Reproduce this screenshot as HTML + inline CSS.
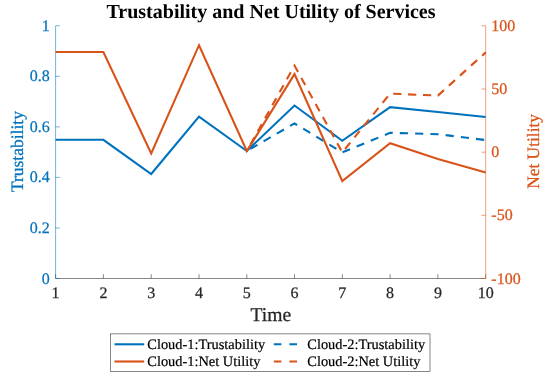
<!DOCTYPE html>
<html><head><meta charset="utf-8"><title>Trustability and Net Utility of Services</title>
<style>
html,body{margin:0;padding:0;background:#fff;}
svg{display:block;font-family:"Liberation Serif","DejaVu Serif",serif;text-rendering:geometricPrecision;}
</style></head><body>
<svg width="550" height="376" viewBox="0 0 550 376">
<rect width="550" height="376" fill="#fff"/>
<text x="271.0" y="18.2" text-anchor="middle" font-size="20" font-weight="bold" fill="#000">Trustability and Net Utility of Services</text>
<g stroke="#262626" stroke-width="0.55" fill="none">
<line x1="55.6" y1="278.5" x2="485.7" y2="278.5"/>
<line x1="55.6" y1="278.5" x2="55.6" y2="274.2"/>
<line x1="103.4" y1="278.5" x2="103.4" y2="274.2"/>
<line x1="151.2" y1="278.5" x2="151.2" y2="274.2"/>
<line x1="199.0" y1="278.5" x2="199.0" y2="274.2"/>
<line x1="246.8" y1="278.5" x2="246.8" y2="274.2"/>
<line x1="294.5" y1="278.5" x2="294.5" y2="274.2"/>
<line x1="342.3" y1="278.5" x2="342.3" y2="274.2"/>
<line x1="390.1" y1="278.5" x2="390.1" y2="274.2"/>
<line x1="437.9" y1="278.5" x2="437.9" y2="274.2"/>
<line x1="485.7" y1="278.5" x2="485.7" y2="274.2"/>
</g>
<g stroke="#0072BD" stroke-width="0.55" fill="none">
<line x1="55.6" y1="25.8" x2="55.6" y2="278.5"/>
<line x1="55.6" y1="278.5" x2="59.9" y2="278.5"/>
<line x1="55.6" y1="228.0" x2="59.9" y2="228.0"/>
<line x1="55.6" y1="177.4" x2="59.9" y2="177.4"/>
<line x1="55.6" y1="126.9" x2="59.9" y2="126.9"/>
<line x1="55.6" y1="76.3" x2="59.9" y2="76.3"/>
<line x1="55.6" y1="25.8" x2="59.9" y2="25.8"/>
</g>
<g stroke="#D95319" stroke-width="0.55" fill="none">
<line x1="485.7" y1="25.8" x2="485.7" y2="278.5"/>
<line x1="485.7" y1="278.5" x2="481.4" y2="278.5"/>
<line x1="485.7" y1="215.3" x2="481.4" y2="215.3"/>
<line x1="485.7" y1="152.2" x2="481.4" y2="152.2"/>
<line x1="485.7" y1="89.0" x2="481.4" y2="89.0"/>
<line x1="485.7" y1="25.8" x2="481.4" y2="25.8"/>
</g>
<g font-size="16" fill="#262626" stroke="#262626" stroke-width="0.25" text-anchor="middle">
<text x="55.6" y="298.3">1</text>
<text x="103.4" y="298.3">2</text>
<text x="151.2" y="298.3">3</text>
<text x="199.0" y="298.3">4</text>
<text x="246.8" y="298.3">5</text>
<text x="294.5" y="298.3">6</text>
<text x="342.3" y="298.3">7</text>
<text x="390.1" y="298.3">8</text>
<text x="437.9" y="298.3">9</text>
<text x="485.7" y="298.3">10</text>
</g>
<g font-size="16" fill="#0072BD" stroke="#0072BD" stroke-width="0.25" text-anchor="end">
<text x="49.7" y="283.5">0</text>
<text x="49.7" y="233.0">0.2</text>
<text x="49.7" y="182.4">0.4</text>
<text x="49.7" y="131.9">0.6</text>
<text x="49.7" y="81.3">0.8</text>
<text x="49.7" y="30.8">1</text>
</g>
<g font-size="16" fill="#D95319" stroke="#D95319" stroke-width="0.25" text-anchor="start">
<text x="491.3" y="283.5">-100</text>
<text x="491.3" y="220.3">-50</text>
<text x="491.3" y="157.2">0</text>
<text x="491.3" y="94.0">50</text>
<text x="491.3" y="30.8">100</text>
</g>
<text x="270.8" y="320.6" text-anchor="middle" font-size="19.6" fill="#262626" stroke="#262626" stroke-width="0.25">Time</text>
<text transform="translate(23.3,151.6) rotate(-90)" text-anchor="middle" font-size="17.5" fill="#0072BD" stroke="#0072BD" stroke-width="0.25">Trustability</text>
<text transform="translate(538.8,151.4) rotate(-90)" text-anchor="middle" font-size="17.4" fill="#D95319" stroke="#D95319" stroke-width="0.25">Net Utility</text>
<g fill="none" stroke-width="2.1" stroke-linejoin="miter">
<polyline stroke="#0072BD" points="55.6,139.8 103.4,139.8 151.2,174.0 199.0,116.6 246.8,151.0 294.5,105.5 342.3,140.8 390.1,107.1 437.9,112.0 485.7,117.0"/>
<polyline stroke="#0072BD" stroke-dasharray="8.2 7.1" stroke-dashoffset="11.2" points="246.8,151.0 294.5,123.4 342.3,152.4 390.1,132.8 437.9,134.2 485.7,140.1"/>
<polyline stroke="#D95319" points="55.6,52.0 103.4,52.0 151.2,153.4 199.0,45.2 246.8,151.0 294.5,74.1 342.3,181.1 390.1,143.2 437.9,159.0 485.7,172.5"/>
<polyline stroke="#D95319" stroke-dasharray="8.2 6.7" stroke-dashoffset="7.3" points="246.8,151.0 294.5,65.6 342.3,152.4 390.1,93.6 437.9,95.6 485.7,52.4"/>
</g>
<rect x="110.4" y="333.9" width="319.6" height="37.6" fill="#fff" stroke="#262626" stroke-width="0.55"/>
<g fill="none" stroke-width="2.1">
<line x1="114.5" y1="344.3" x2="144.2" y2="344.3" stroke="#0072BD"/>
<line x1="114.5" y1="361.5" x2="144.2" y2="361.5" stroke="#D95319"/>
<line x1="273.8" y1="344.3" x2="303.5" y2="344.3" stroke="#0072BD" stroke-dasharray="7.6 8"/>
<line x1="273.8" y1="361.5" x2="303.5" y2="361.5" stroke="#D95319" stroke-dasharray="7.6 8"/>
</g>
<g font-size="14.4" fill="#000" stroke="#000" stroke-width="0.2">
<text x="147.3" y="349">Cloud-1:Trustability</text>
<text x="147.3" y="366.2">Cloud-1:Net Utility</text>
<text x="307.3" y="349">Cloud-2:Trustability</text>
<text x="307.3" y="366.2">Cloud-2:Net Utility</text>
</g>
</svg></body></html>
